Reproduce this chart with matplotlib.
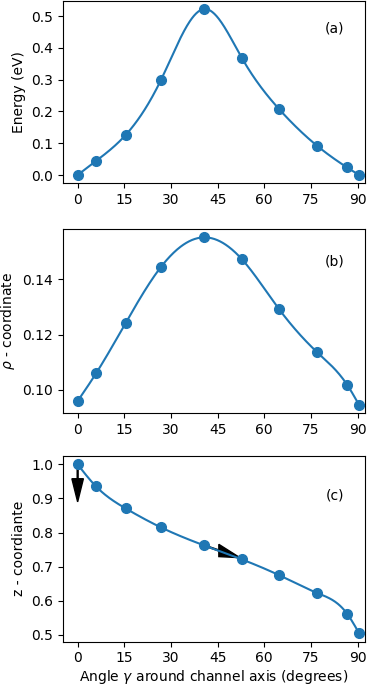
import numpy as np
import matplotlib
matplotlib.use("Agg")
import matplotlib.pyplot as plt

# ---- data ----
angle = [0.0, 5.9, 15.4, 26.8, 40.7, 52.8, 64.7, 77.1, 86.6, 90.5]
energy = [0.0, 0.044, 0.1255, 0.299, 0.522, 0.368, 0.208, 0.091, 0.024, 0.0]
rho = [0.0959, 0.1059, 0.1241, 0.1445, 0.1552, 0.1473, 0.1293, 0.1135, 0.1019, 0.0945]
zc = [1.0, 0.9355, 0.871, 0.815, 0.762, 0.721, 0.675, 0.622, 0.562, 0.504]
xticks = [0, 15, 30, 45, 60, 75, 90]
panel_labels = ["(a)", "(b)", "(c)"]
ylabels = ["Energy (eV)", r"$\rho$ - coordinate", "z - coordiante"]
xlabel = r"Angle $\gamma$ around channel axis (degrees)"


def natural_spline(x, y, n=400):
    x = np.asarray(x, float)
    y = np.asarray(y, float)
    m = len(x)
    h = np.diff(x)
    A = np.zeros((m, m))
    b = np.zeros(m)
    A[0, 0] = 1
    A[-1, -1] = 1
    for i in range(1, m - 1):
        A[i, i - 1] = h[i - 1]
        A[i, i] = 2 * (h[i - 1] + h[i])
        A[i, i + 1] = h[i]
        b[i] = 3 * ((y[i + 1] - y[i]) / h[i] - (y[i] - y[i - 1]) / h[i - 1])
    c = np.linalg.solve(A, b)
    xs = np.linspace(x[0], x[-1], n)
    idx = np.clip(np.searchsorted(x, xs) - 1, 0, m - 2)
    dx = xs - x[idx]
    bb = (y[1:] - y[:-1]) / h - h * (2 * c[:-1] + c[1:]) / 3
    d = (c[1:] - c[:-1]) / (3 * h)
    ys = y[idx] + bb[idx] * dx + c[idx] * dx ** 2 + d[idx] * dx ** 3
    return xs, ys


plt.rcParams['font.family'] = ['DejaVu Sans']
plt.rcParams['font.size'] = 10

fig = plt.figure(figsize=(3.75, 6.85), dpi=100)
blue = '#1f77b4'
positions = [
    [0.168, 0.7324, 0.805, 0.2666],
    [0.168, 0.3966, 0.805, 0.2691],
    [0.168, 0.0632, 0.805, 0.2711],
]
series = [energy, rho, zc]
label_y = [0.85, 0.823, 0.786]

axes = []
for k in range(3):
    ax = fig.add_axes(positions[k])
    xs, ys = natural_spline(angle, series[k])
    if k == 2:
        ax.arrow(angle[0], zc[0], 0, -0.11, head_width=3.7, head_length=0.068,
                 length_includes_head=True, color='black', width=0.3, zorder=1)
        ax.arrow(angle[4], zc[4], 52.2 - angle[4], 0.726 - zc[4], head_width=0.036,
                 head_length=6.8, length_includes_head=True, color='black',
                 width=0.003, zorder=1)
    ax.plot(xs, ys, color=blue, lw=1.5, zorder=2)
    ax.plot(angle, series[k], 'o', color=blue, ms=7, zorder=3)
    ax.set_xlim(-4.71, 92.36)
    ax.set_xticks(xticks)
    ax.set_ylabel(ylabels[k])
    ax.text(0.9, label_y[k], panel_labels[k], transform=ax.transAxes,
            ha='center', va='center')
    axes.append(ax)

axes[1].set_yticks([0.10, 0.12, 0.14])
axes[2].set_xlabel(xlabel, labelpad=2)

fig.savefig("out.png", dpi=100)
